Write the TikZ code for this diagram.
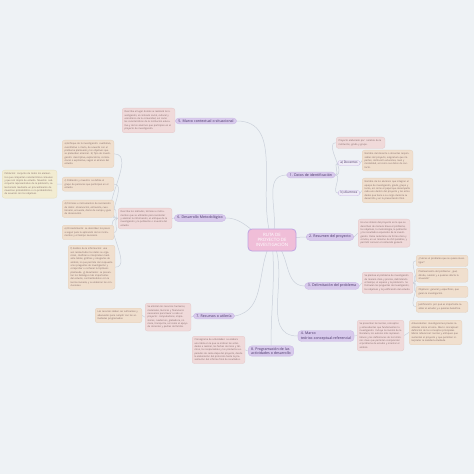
\documentclass[tikz,border=0pt]{standalone}
\usepackage{fontspec}
\setmainfont{Open Sans}
\usetikzlibrary{backgrounds}
\definecolor{bgcol}{RGB}{238,242,245}
\definecolor{brfill}{RGB}{216,202,236}
\definecolor{brdraw}{RGB}{200,182,228}
\definecolor{brtext}{RGB}{70,52,100}
\definecolor{pinkfill}{RGB}{240,218,218}
\definecolor{pinkdraw}{RGB}{226,198,200}
\definecolor{beigefill}{RGB}{240,223,206}
\definecolor{beigedraw}{RGB}{226,206,186}
\definecolor{yelfill}{RGB}{242,236,210}
\definecolor{yeldraw}{RGB}{228,220,188}
\definecolor{bodytext}{RGB}{125,100,100}
\definecolor{conncol}{RGB}{202,208,218}
\definecolor{rootfill}{RGB}{240,190,216}
\definecolor{rootdraw}{RGB}{192,164,226}
\definecolor{labfill}{RGB}{240,236,247}
\tikzset{
  branch/.style={fill=brfill, draw=brdraw, line width=0.3pt, rounded corners=3.5pt,
    font=\fontsize{3.6}{4.3}\selectfont, text=brtext, inner xsep=3pt, inner ysep=1.6pt, align=left},
  sublab/.style={fill=labfill, draw=brdraw, line width=0.3pt, rounded corners=3pt,
    font=\fontsize{3.2}{3.8}\selectfont, text=brtext, inner xsep=2.5pt, inner ysep=1.3pt},
  bodybox/.style={line width=0.3pt, rounded corners=2.5pt, font=\fontsize{2.35}{3.35}\selectfont,
    text=bodytext, inner xsep=2.4pt, inner ysep=2.8pt, align=left, anchor=north west},
  pinkbox/.style={bodybox, fill=pinkfill, draw=pinkdraw},
  beigebox/.style={bodybox, fill=beigefill, draw=beigedraw},
  yelbox/.style={bodybox, fill=yelfill, draw=yeldraw},
  rootbox/.style={fill=rootfill, draw=rootdraw, line width=0.8pt, rounded corners=4pt,
    font=\fontsize{4.4}{5.2}\selectfont, text=white, align=center, minimum width=48bp, minimum height=22bp},
  conn/.style={draw=conncol, line width=0.5pt},
}
\begin{document}
\begin{tikzpicture}[x=1bp,y=-1bp]
\useasboundingbox (0,0) rectangle (474,474);
% root
\node[rootbox] (root) at (272,240) {RUTA DE\\PROYECTO DE\\INVESTIGACIÓN};
% branches
\node[branch] (b1) at (311,175) {1. Datos de identificación};
\node[branch] (b2) at (330,237) {2. Resumen del proyecto};
\node[branch] (b3) at (332,286) {3. Delimitación del problema};
\node[branch] (b4) at (326,336) {4. Marco\\teórico-conceptual-referencial};
\node[branch] (b8) at (271,351) {8. Programación de las\\actividades o desarrollo};
\node[branch] (b7) at (214,316) {7. Recursos o utilería};
\node[branch] (b6) at (200,218) {6. Desarrollo Metodológico};
\node[branch] (b5) at (206,121) {5. Marco contextual o situacional};
% branch 5
\node[pinkbox, text width=48bp] (c5) at (122,108) {Describe el lugar donde se realizará la investigación, el contexto social, cultural y económico de la comunidad, así como las características de la institución educativa y de los alumnos que participan en el proyecto de investigación.};
% branch 6
\node[pinkbox, text width=49bp] (c6) at (118,208) {Describe los métodos, técnicas e instrumentos que se utilizarán para recolectar y analizar la información, el enfoque de la investigación y la población o muestra del estudio.};
\node[beigebox, text width=47bp] (d1) at (62,140) {a) Enfoque de la investigación: cualitativo, cuantitativo o mixto, de acuerdo con el problema planteado y los objetivos que se pretenden alcanzar. b) Tipo de investigación: descriptiva, exploratoria, correlacional o explicativa, según el alcance del estudio.};
\node[beigebox, text width=47bp] (d2) at (62,177) {c) Población y muestra: se define el grupo de personas que participan en el estudio.};
\node[beigebox, text width=47bp] (d3) at (62,200) {d) Técnicas e instrumentos de recolección de datos: observación, entrevista, cuestionario, encuesta, diario de campo y guía de observación.};
\node[beigebox, text width=47bp] (d4) at (62,225) {e) Procedimiento: se describen los pasos a seguir para la aplicación de los instrumentos y el tiempo necesario.};
\node[beigebox, text width=42bp] (d5) at (68,245) {f) Análisis de la información: una vez recolectados los datos se organizan, clasifican e interpretan mediante tablas, gráficas y categorías de análisis, lo que permite dar respuesta a las preguntas de investigación y comprobar o rechazar la hipótesis planteada. g) Resultados: se presentan los hallazgos más importantes del estudio, contrastándolos con la teoría revisada, y se elaboran las conclusiones.};
\node[yelbox, text width=50bp] (e1) at (2,170) {Población: conjunto de todos los elementos que comparten características comunes y que son objeto de estudio. Muestra: subconjunto representativo de la población, seleccionado mediante un procedimiento de muestreo probabilístico o no probabilístico, de acuerdo con los objetivos.};
% branch 7
\node[pinkbox, text width=41bp] (c7) at (145,303) {Se enlistan los recursos humanos, materiales, técnicos y financieros necesarios para llevar a cabo el proyecto: computadoras, impresiones, cuadernos, grabadora, cámara, transporte, así como el apoyo de docentes y padres de familia.};
\node[beigebox, text width=42bp] (c7b) at (95,308) {Los recursos deben ser suficientes y adecuados para cumplir con las actividades programadas.};
% branch 8
\node[pinkbox, text width=48bp] (c8) at (192,336) {Cronograma de actividades: se elabora una tabla en la que se indican las actividades a realizar, las fechas de inicio y término, los responsables y los productos esperados de cada etapa del proyecto, desde la elaboración del protocolo hasta la presentación del informe final de resultados.};
% branch 4
\node[pinkbox, text width=42bp] (c4) at (357,320) {Se presentan las teorías, conceptos y antecedentes que fundamentan la investigación. Incluye la revisión de la literatura, los autores más representativos y las definiciones de los términos clave que permiten comprender el problema de estudio y orientar el análisis.};
\node[beigebox, text width=48bp] (c4b) at (409,320) {Antecedentes: investigaciones previas realizadas sobre el tema. Marco conceptual: definición de los conceptos principales. Marco referencial: teorías y enfoques que sustentan el proyecto y que permiten interpretar la realidad estudiada.};
% branch 3
\node[pinkbox, text width=46bp] (c3) at (362,272) {Se plantea el problema de investigación de manera clara y precisa, delimitando el tiempo, el espacio y la población. Se formulan las preguntas de investigación, los objetivos y la justificación del estudio.};
\node[beigebox, text width=47bp] (f1) at (416,255) {¿Cuál es el problema que se quiere investigar?};
\node[beigebox, text width=47bp] (f2) at (416,268) {Planteamiento del problema: ¿qué, dónde, cuándo y a quiénes afecta la situación?};
\node[beigebox, text width=47bp] (f3) at (416,286) {Objetivos: general y específicos, que guían la investigación.};
\node[beigebox, text width=47bp] (f4) at (416,301) {Justificación: por qué es importante realizar el estudio y a quiénes beneficia.};
% branch 2
\node[pinkbox, text width=47bp] (c2) at (358,219) {Es una síntesis del proyecto en la que se describen de manera breve el problema, los objetivos, la metodología, la población y los resultados esperados de la investigación. Debe redactarse de forma clara y concisa, en un máximo de 250 palabras, y permitir conocer el contenido general.};
% branch 1
\node[pinkbox, text width=44bp] (c1) at (336,137) {Proyecto elaborado por: nombre de la institución, grado y grupo.};
\node[sublab] (la) at (349,163) {a) Docentes};
\node[sublab] (lb) at (349,193) {b) Alumnos};
\node[beigebox, text width=46bp] (ga) at (362,150) {Nombre del docente o docentes responsables del proyecto, asignatura que imparten, institución educativa, nivel y modalidad, así como sus datos de contacto.};
\node[beigebox, text width=46bp] (gb) at (362,178) {Nombre de los alumnos que integran el equipo de investigación, grado, grupo y turno, así como el papel que desempeña cada uno dentro del proyecto y las actividades que tiene a su cargo durante su desarrollo y en la presentación final.};
% connectors
\begin{scope}[on background layer]
\fill[bgcol] (0,0) rectangle (474,474);
\draw[conn] (b5.east) to[out=0,in=110] (root.center);
\draw[conn] (b6.east) to[out=0,in=170] (root.center);
\draw[conn] (b7.east) to[out=10,in=-120] (root.center);
\draw[conn] (b8.north) to[out=90,in=-85] (root.center);
\draw[conn] (b4.west) to[out=180,in=-60] (root.center);
\draw[conn] (b3.west) to[out=180,in=-30] (root.center);
\draw[conn] (b2.west) to[out=180,in=0] (root.center);
\draw[conn] (b1.west) to[out=180,in=70] (root.center);
\draw[conn] (b5.west) -- (c5.east);
\draw[conn] (b6.west) -- (c6.east);
\foreach \n in {d1,d2,d3,d4,d5} {\draw[conn] (c6.west) to[out=180,in=0] (\n.east);}
\draw[conn] (d2.west) -- (e1.east);
\draw[conn] (b7.west) -- (c7.east);
\draw[conn] (c7.west) -- (c7b.east);
\draw[conn] (b8.west) -- (c8.east);
\draw[conn] (b4.east) -- (c4.west);
\draw[conn] (c4.east) -- (c4b.west);
\draw[conn] (b3.east) -- (c3.west);
\foreach \n in {f1,f2,f3,f4} {\draw[conn] (c3.east) to[out=0,in=180] (\n.west);}
\draw[conn] (b2.east) -- (c2.west);
\draw[conn] (b1.east) to[out=0,in=180] (c1.west);
\draw[conn] (b1.east) to[out=0,in=180] (la.west);
\draw[conn] (b1.east) to[out=0,in=180] (lb.west);
\draw[conn] (la.east) -- (ga.west);
\draw[conn] (lb.east) -- (gb.west);
\end{scope}
\end{tikzpicture}
\end{document}
